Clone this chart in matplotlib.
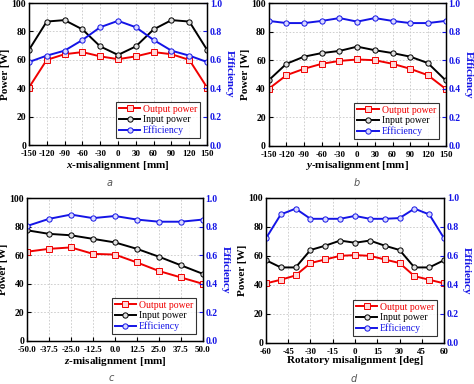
import numpy as np
import matplotlib
matplotlib.use("Agg")
import matplotlib.pyplot as plt

plt.rcParams['font.family'] = ['Liberation Serif', 'DejaVu Serif']
plt.rcParams['mathtext.fontset'] = 'custom'
plt.rcParams['mathtext.rm'] = 'Liberation Serif:bold'
plt.rcParams['mathtext.it'] = 'Liberation Serif:italic:bold'
plt.rcParams['axes.unicode_minus'] = False

# ---- data ----
x_a = [-150, -120, -90, -60, -30, 0, 30, 60, 90, 120, 150]
out_a = [40.5, 60, 64, 65.5, 62.5, 60.5, 62.5, 65.5, 64, 60, 40.5]
in_a = [67, 87, 88, 81.5, 69.5, 63.5, 69.5, 81.5, 88, 87, 67]
eff_a = [0.585, 0.63, 0.665, 0.74, 0.83, 0.875, 0.83, 0.74, 0.665, 0.63, 0.585]

x_b = [-150, -120, -90, -60, -30, 0, 30, 60, 90, 120, 150]
out_b = [40, 49.5, 54, 57.5, 59.5, 60.5, 60, 57.5, 54, 49.5, 40]
in_b = [46, 57.5, 62.5, 65, 66.5, 69.5, 67, 65, 62.5, 58, 46]
eff_b = [0.875, 0.86, 0.86, 0.875, 0.895, 0.87, 0.895, 0.875, 0.86, 0.86, 0.875]

x_c = [-50, -37.5, -25, -12.5, 0, 12.5, 25, 37.5, 50]
out_c = [62.5, 64.5, 65.5, 61, 60.5, 55, 49, 44.5, 40]
in_c = [77.5, 75, 74, 71.5, 69, 64.5, 59, 53, 47]
eff_c = [0.805, 0.855, 0.885, 0.86, 0.875, 0.85, 0.835, 0.835, 0.85]

x_d = [-60, -50, -40, -30, -20, -10, 0, 10, 20, 30, 40, 50, 60]
out_d = [41, 43.5, 46.5, 55, 57.5, 60, 60.5, 60, 57.5, 55, 46, 43.5, 41]
in_d = [57, 52, 52, 64, 67, 70.5, 69, 70.5, 67, 64, 52, 52, 57]
eff_d = [0.72, 0.885, 0.925, 0.855, 0.855, 0.855, 0.875, 0.855, 0.855, 0.86, 0.925, 0.885, 0.72]

ticks_ab = [-150, -120, -90, -60, -30, 0, 30, 60, 90, 120, 150]
ticks_c = [-50.0, -37.5, -25.0, -12.5, 0.0, 12.5, 25.0, 37.5, 50.0]
ticks_d = [-60, -45, -30, -15, 0, 15, 30, 45, 60]

RED = '#f00000'
BLUE = '#1414e6'


def panel(rect, x, out, inp, eff, xticks, xlabels, xlabel, caption, cap_xy):
    ax = fig.add_axes(rect)
    ax2 = ax.twinx()
    l1, = ax.plot(x, out, color=RED, lw=1.4, marker='s', ms=3.8, mfc='#ffd8d8', mec=RED, mew=0.7)
    l2, = ax.plot(x, inp, color='black', lw=1.4, marker='o', ms=3.8, mfc='#e0e0e0', mec='black', mew=0.7)
    l3, = ax2.plot(x, eff, color=BLUE, lw=1.4, marker='o', ms=3.8, mfc='#d8d8ff', mec=BLUE, mew=0.7)
    ax.set_xlim(xticks[0], xticks[-1])
    ax.set_ylim(0, 100)
    ax2.set_ylim(0, 1.0)
    ax.set_xticks(xticks)
    ax.set_xticklabels(xlabels)
    ax.set_yticks([0, 20, 40, 60, 80, 100])
    ax2.set_yticks([0, 0.2, 0.4, 0.6, 0.8, 1.0])
    ax2.set_yticklabels(['0.0', '0.2', '0.4', '0.6', '0.8', '1.0'])
    ax.grid(True, ls=(0, (2, 2)), color='#c8c8c8', lw=0.6)
    ax.set_axisbelow(True)
    ax.tick_params(direction='in', length=3, width=0.8, labelsize=7, pad=2)
    ax.tick_params(axis='x', labelsize=6.5, pad=3.5)
    ax2.tick_params(direction='in', length=3, width=0.8, labelsize=7, colors=BLUE, pad=2)
    for lab in ax.get_xticklabels() + ax.get_yticklabels() + ax2.get_yticklabels():
        lab.set_fontweight('bold')
    for s in ax.spines.values():
        s.set_linewidth(1.0)
    ax2.spines['right'].set_color('black')
    ax.set_xlabel(xlabel, fontsize=8, fontweight='bold', labelpad=0.5)
    ax.set_ylabel('Power [W]', fontsize=8, fontweight='bold', labelpad=1)
    ax2.set_ylabel('Efficiency', fontsize=8, fontweight='bold', color=BLUE, rotation=270,
                   labelpad=2, va='bottom')
    leg = ax.legend([l1, l2, l3], ['Output power', 'Input power', 'Efficiency'],
                    loc='lower right', fontsize=7, frameon=True, fancybox=False,
                    edgecolor='black', borderpad=0.3, handlelength=2.2, handletextpad=0.3,
                    labelspacing=0.15, borderaxespad=0.7)
    leg.get_frame().set_linewidth(0.8)
    for t, c in zip(leg.get_texts(), [RED, 'black', BLUE]):
        t.set_color(c)
    fig.text(cap_xy[0], cap_xy[1], caption, fontsize=7, style='italic', color='#555555',
             family='DejaVu Sans', ha='center', va='center')


fig = plt.figure(figsize=(4.74, 3.84), dpi=100)

lab_ab = [str(t) for t in ticks_ab]
lab_c = ['%.1f' % t for t in ticks_c]
lab_d = [str(t) for t in ticks_d]

panel([0.061, 0.622, 0.376, 0.370], x_a, out_a, in_a, eff_a, ticks_ab, lab_ab,
      r'$\it{x}$-misalignment [mm]', 'a', (0.232, 0.523))
panel([0.567, 0.620, 0.373, 0.372], x_b, out_b, in_b, eff_b, ticks_ab, lab_ab,
      r'$\it{y}$-misalignment [mm]', 'b', (0.753, 0.523))
panel([0.057, 0.112, 0.371, 0.372], x_c, out_c, in_c, eff_c, ticks_c, lab_c,
      r'$\it{z}$-misalignment [mm]', 'c', (0.234, 0.015))
panel([0.561, 0.107, 0.376, 0.378], x_d, out_d, in_d, eff_d, ticks_d, lab_d,
      'Rotatory misalignment [deg]', 'd', (0.747, 0.012))

fig.savefig('out.png', dpi=100)
